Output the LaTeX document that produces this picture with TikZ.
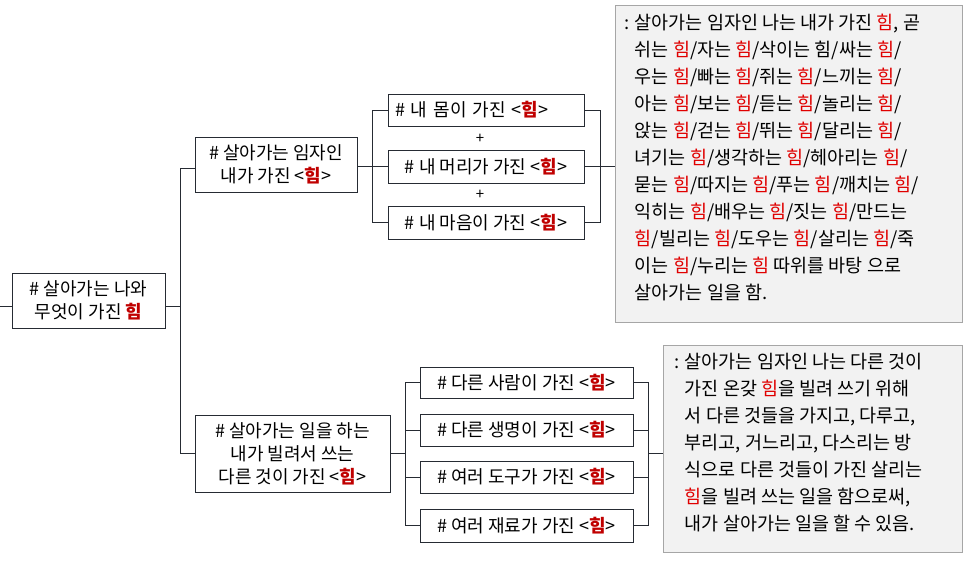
\documentclass[tikz,border=0pt]{standalone}
\usepackage{fontspec}
\setmainfont{Noto Sans CJK KR}
\definecolor{hr}{HTML}{C00000}
\definecolor{tr}{HTML}{E00000}
\definecolor{ln}{HTML}{262B33}
\definecolor{gb}{HTML}{F2F2F2}
\definecolor{gd}{HTML}{A6A6A6}
\newcommand{\hb}{\textcolor{hr}{\bfseries 힘}}
\newcommand{\hr}{\textcolor{tr}{힘}}
\newcommand{\ind}{\phantom{: }}
\begin{document}
\begin{tikzpicture}[x=1pt,y=-1pt,
  bx/.style={draw=ln,line width=0.9pt,inner sep=0pt,font=\fontsize{18}{23}\selectfont,align=center},
  cn/.style={draw=ln,line width=0.9pt}]
\useasboundingbox (0,0) rectangle (969,560);
% boxes
\node[bx,minimum width=153,minimum height=55] (r) at (88.5,300.5) {\# 살아가는 나와\\ 무엇이 가진 \hb};
\node[bx,minimum width=162,minimum height=55] (a) at (276,164.5) {\# 살아가는 임자인\\ 내가 가진 <\hb>};
\node[bx,minimum width=195,minimum height=77] (b) at (292.5,453.5) {\# 살아가는 일을 하는\\ 내가 빌려서 쓰는\\ 다른 것이 가진 <\hb>};
\node[bx,minimum width=196,minimum height=32,text width=182,align=left] (a1) at (486,110) {\# 내 몸이 가진 <\hb>};
\node[bx,minimum width=196,minimum height=33] (a2) at (486,166.5) {\# 내 머리가 가진 <\hb>};
\node[bx,minimum width=196,minimum height=33] (a3) at (486,222.5) {\# 내 마음이 가진 <\hb>};
\node[font=\fontsize{15}{15}\selectfont] (p1) at (480,139) {+};
\node[font=\fontsize{15}{15}\selectfont] (p2) at (480,195) {+};
\node[bx,minimum width=213,minimum height=31] (b1) at (526.5,382.5) {\# 다른 사람이 가진 <\hb>};
\node[bx,minimum width=213,minimum height=32] (b2) at (526.5,430) {\# 다른 생명이 가진 <\hb>};
\node[bx,minimum width=213,minimum height=32] (b3) at (526.5,477) {\# 여러 도구가 가진 <\hb>};
\node[bx,minimum width=213,minimum height=33] (b4) at (526.5,525.5) {\# 여러 재료가 가진 <\hb>};
\draw[draw=gd,fill=gb,line width=0.9pt] (615,5) rectangle (962,322);
\node[anchor=north west,inner sep=0pt,font=\fontsize{18.5}{27}\selectfont,align=left] (t1) at (624,14) {%
: 살아가는 임자인 나는 내가 가진 \hr, 곧\\
\ind 쉬는 \hr/자는 \hr/삭이는 힘/싸는 \hr/\\
\ind 우는 \hr/빠는 \hr/쥐는 \hr/느끼는 \hr/\\
\ind 아는 \hr/보는 \hr/듣는 \hr/놀리는 \hr/\\
\ind 앉는 \hr/걷는 \hr/뛰는 \hr/달리는 \hr/\\
\ind 녀기는 \hr/생각하는 \hr/헤아리는 \hr/\\
\ind 묻는 \hr/따지는 \hr/푸는 \hr/깨치는 \hr/\\
\ind 익히는 \hr/배우는 \hr/짓는 \hr/만드는\\
\ind \hr/빌리는 \hr/도우는 \hr/살리는 \hr/죽\\
\ind 이는 \hr/누리는 \hr{} 따위를 바탕 으로\\
\ind 살아가는 일을 함.};
\draw[draw=gd,fill=gb,line width=0.9pt] (663,345) rectangle (962,552);
\node[anchor=north west,inner sep=0pt,font=\fontsize{18.5}{27}\selectfont,align=left] (t2) at (674,353) {%
: 살아가는 임자인 나는 다른 것이\\
\ind 가진 온갖 \hr 을 빌려 쓰기 위해\\
\ind 서 다른 것들을 가지고, 다루고,\\
\ind 부리고, 거느리고, 다스리는 방\\
\ind 식으로 다른 것들이 가진 살리는\\
\ind \hr 을 빌려 쓰는 일을 함으로써,\\
\ind 내가 살아가는 일을 할 수 있음.};
\coordinate (c0) at (0,306);
\coordinate (tr) at (180,306);
% connectors
\draw[cn] (c0) -- (r.west|-c0);
\draw[cn] (r.east|-tr) -- (tr);
\draw[cn] (a.west|-0,168) -| (180,453) -- (b.west|-0,453);
\draw[cn] (a.east|-0,166.5) -- (a2.west);
\draw[cn] (a1.west) -| (372,222.5) -- (a3.west);
\draw[cn] (a1.east) -| (600,222.5) -- (a3.east);
\draw[cn] (a2.east) -- (615,166.5);
\draw[cn] (b.east|-0,453) -- (405,453);
\draw[cn] (b1.west) -| (405,525.5) -- (b4.west);
\draw[cn] (b2.west) -- (405,430);
\draw[cn] (b3.west) -- (405,477);
\draw[cn] (b1.east) -| (648,525.5) -- (b4.east);
\draw[cn] (b2.east) -- (648,430);
\draw[cn] (b3.east) -- (648,477);
\draw[cn] (648,453) -- (663,453);
\end{tikzpicture}
\end{document}
